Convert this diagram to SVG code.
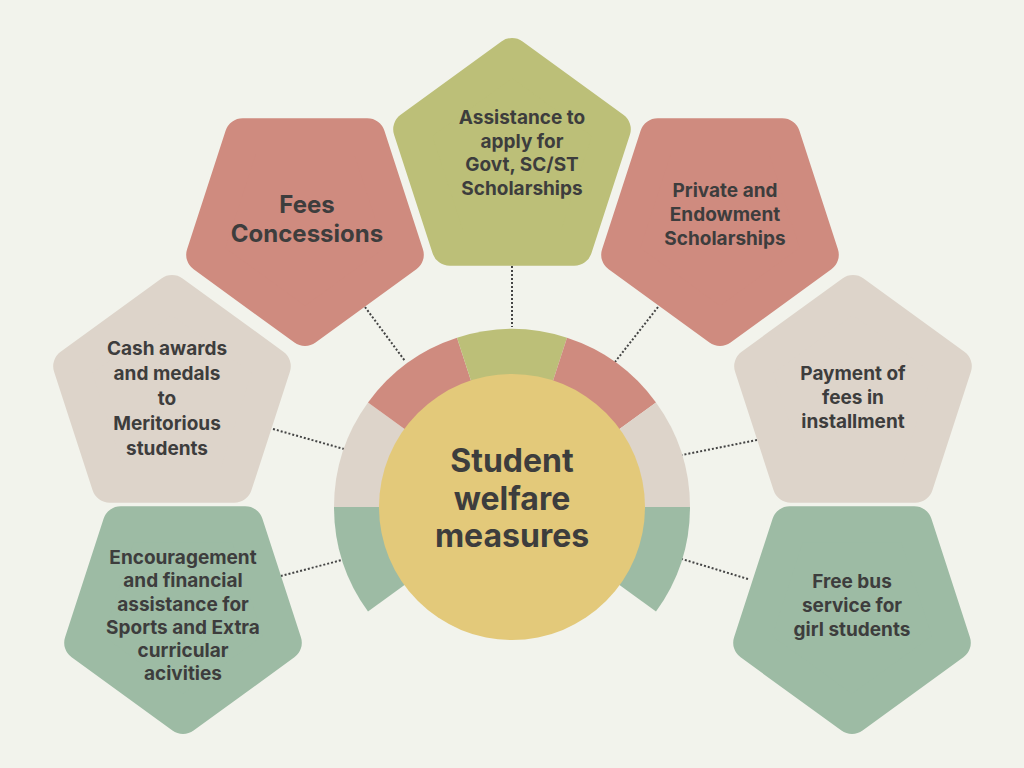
<svg xmlns="http://www.w3.org/2000/svg" xmlns:xlink="http://www.w3.org/1999/xlink" width="1024" height="768" viewBox="0 0 1024 768">
<defs>
<style>
.pent{stroke-width:36;stroke-linejoin:round}
.red{fill:#cf8b7f;stroke:#cf8b7f}
.olive{fill:#bcbf78;stroke:#bcbf78}
.beige{fill:#ddd4ca;stroke:#ddd4ca}
.sage{fill:#9dbba4;stroke:#9dbba4}
text{font-family:Inter,"Liberation Sans",sans-serif;font-weight:bold;fill:#3d3d3d;text-anchor:middle;font-size:19px}
.big{font-size:24px}
.center{font-size:32px}
.conn line{stroke:#444;stroke-width:2;stroke-dasharray:2 2}
</style>
<polygon id="up" points="0,-106 100.8,-32.8 62.3,85.8 -62.3,85.8 -100.8,-32.8"/>
<polygon id="down" points="0,106 100.8,32.8 62.3,-85.8 -62.3,-85.8 -100.8,32.8"/>
</defs>
<rect width="1024" height="768" fill="#f2f3ec"/>
<g class="conn">
<line x1="512" y1="266" x2="512" y2="327"/>
<line x1="365" y1="307" x2="405" y2="361"/>
<line x1="273" y1="429" x2="344" y2="449"/>
<line x1="273" y1="578" x2="342" y2="560"/>
<line x1="658" y1="307" x2="615" y2="362"/>
<line x1="757" y1="440" x2="682" y2="455"/>
<line x1="748" y1="579" x2="682" y2="559"/>
</g>
<g id="hub">
<path fill="#9dbba4" d="M512,507 L368,611.6 A178,178 0 0 1 334,507 Z"/>
<path fill="#ddd4ca" d="M512,507 L334,507 A178,178 0 0 1 368,402.4 Z"/>
<path fill="#cf8b7f" d="M512,507 L368,402.4 A178,178 0 0 1 457,337.7 Z"/>
<path fill="#bcbf78" d="M512,507 L457,337.7 A178,178 0 0 1 567,337.7 Z"/>
<path fill="#cf8b7f" d="M512,507 L567,337.7 A178,178 0 0 1 656,402.4 Z"/>
<path fill="#ddd4ca" d="M512,507 L656,402.4 A178,178 0 0 1 690,507 Z"/>
<path fill="#9dbba4" d="M512,507 L690,507 A178,178 0 0 1 656,611.6 Z"/>
<circle cx="512" cy="507" r="133" fill="#e3c97a"/>
<text class="center" x="512" y="472">Student</text>
<text class="center" x="512" y="510">welfare</text>
<text class="center" x="512" y="547">measures</text>
</g>
<g id="n-top">
<use xlink:href="#up" class="pent olive" x="512" y="162"/>
<text x="522" y="124">Assistance to</text>
<text x="522" y="148">apply for</text>
<text x="522" y="171">Govt, SC/ST</text>
<text x="522" y="195">Scholarships</text>
</g>
<g id="n-fees">
<use xlink:href="#down" class="pent red" x="305" y="222"/>
<text class="big" x="307" y="213">Fees</text>
<text class="big" x="307" y="242">Concessions</text>
</g>
<g id="n-private">
<use xlink:href="#down" class="pent red" x="720" y="222"/>
<text x="725" y="197">Private and</text>
<text x="725" y="221">Endowment</text>
<text x="725" y="245">Scholarships</text>
</g>
<g id="n-cash">
<use xlink:href="#up" class="pent beige" x="172" y="399"/>
<text x="167" y="355">Cash awards</text>
<text x="167" y="380">and medals</text>
<text x="167" y="405">to</text>
<text x="167" y="430">Meritorious</text>
<text x="167" y="455">students</text>
</g>
<g id="n-payment">
<use xlink:href="#up" class="pent beige" x="853" y="399"/>
<text x="853" y="380">Payment of</text>
<text x="853" y="404">fees in</text>
<text x="853" y="428">installment</text>
</g>
<g id="n-sports">
<use xlink:href="#down" class="pent sage" x="183" y="610"/>
<text x="183" y="564">Encouragement</text>
<text x="183" y="587">and financial</text>
<text x="183" y="611">assistance for</text>
<text x="183" y="634">Sports and Extra</text>
<text x="183" y="657">curricular</text>
<text x="183" y="680">acivities</text>
</g>
<g id="n-bus">
<use xlink:href="#down" class="pent sage" x="852" y="610"/>
<text x="852" y="588">Free bus</text>
<text x="852" y="612">service for</text>
<text x="852" y="636">girl students</text>
</g>
</svg>
